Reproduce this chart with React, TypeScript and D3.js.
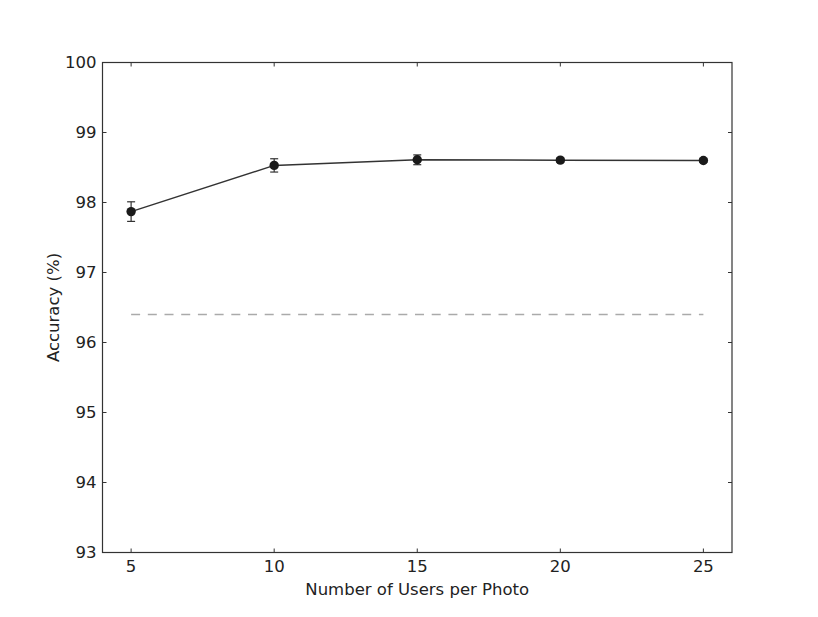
import React from 'react';
import * as d3 from 'd3';

const users = [5, 10, 15, 20, 25];
const accuracy = [97.87, 98.53, 98.61, 98.605, 98.6];
const errors = [0.14, 0.095, 0.07, 0.03, 0.025];
const baseline = 96.4;
const xTicks = [5, 10, 15, 20, 25];
const yTicks = [93, 94, 95, 96, 97, 98, 99, 100];

const App = () => {
  const width = 818;
  const height = 617;
  const margin = { top: 62.5, right: 86, bottom: 64.5, left: 102.5 };
  const w = width - margin.left - margin.right;
  const h = height - margin.top - margin.bottom;

  const x = d3.scaleLinear().domain([4, 26]).range([0, w]);
  const y = d3.scaleLinear().domain([93, 100]).range([h, 0]);

  const line = d3.line<number>()
    .x((d, i) => x(users[i]))
    .y(d => y(d));

  const font = "'DejaVu Sans', sans-serif";
  const axisColor = '#333';
  const fs = 16.5;

  return (
    <svg width={width} height={height} style={{ position: 'absolute', left: 0, top: 0 }}>
      <rect width={width} height={height} fill="#fff" />
      <g transform={`translate(${margin.left},${margin.top})`}>
        {/* baseline */}
        <line x1={x(5)} x2={x(25)} y1={y(baseline)} y2={y(baseline)}
          stroke="#aaa" strokeWidth={1.3} strokeDasharray="9,7.7" />

        {/* series */}
        <path d={line(accuracy) || ''} fill="none" stroke="#333" strokeWidth={1.5} />
        {accuracy.map((v, i) => {
          const cx = x(users[i]);
          const lo = y(v - errors[i]);
          const hi = y(v + errors[i]);
          return (
            <g key={i}>
              <line x1={cx} x2={cx} y1={lo} y2={hi} stroke="#333" strokeWidth={1.2} />
              <line x1={cx - 4} x2={cx + 4} y1={lo} y2={lo} stroke="#333" strokeWidth={1.2} />
              <line x1={cx - 4} x2={cx + 4} y1={hi} y2={hi} stroke="#333" strokeWidth={1.2} />
              <circle cx={cx} cy={y(v)} r={4.7} fill="#1a1a1a" />
            </g>
          );
        })}

        {/* frame */}
        <rect x={0} y={0} width={w} height={h} fill="none" stroke={axisColor} strokeWidth={1.2} />

        {/* x ticks */}
        {xTicks.map(t => (
          <g key={t}>
            <line x1={x(t)} x2={x(t)} y1={h} y2={h - 4} stroke={axisColor} strokeWidth={1} />
            <line x1={x(t)} x2={x(t)} y1={0} y2={4} stroke={axisColor} strokeWidth={1} />
            <text x={x(t)} y={h + 19} textAnchor="middle" fontFamily={font} fontSize={fs} fill="#222">{t}</text>
          </g>
        ))}

        {/* y ticks */}
        {yTicks.map(t => (
          <g key={t}>
            <line x1={0} x2={4} y1={y(t)} y2={y(t)} stroke={axisColor} strokeWidth={1} />
            <line x1={w} x2={w - 4} y1={y(t)} y2={y(t)} stroke={axisColor} strokeWidth={1} />
            <text x={-6} y={y(t)} dy="0.35em" textAnchor="end" fontFamily={font} fontSize={fs} fill="#222">{t}</text>
          </g>
        ))}

        <text x={w / 2} y={h + 42} textAnchor="middle" fontFamily={font} fontSize={fs} fill="#222">
          Number of Users per Photo
        </text>
        <text transform={`translate(${-44},${h / 2}) rotate(-90)`} textAnchor="middle"
          fontFamily={font} fontSize={fs} fill="#222">
          Accuracy (%)
        </text>
      </g>
    </svg>
  );
};

export default App;
